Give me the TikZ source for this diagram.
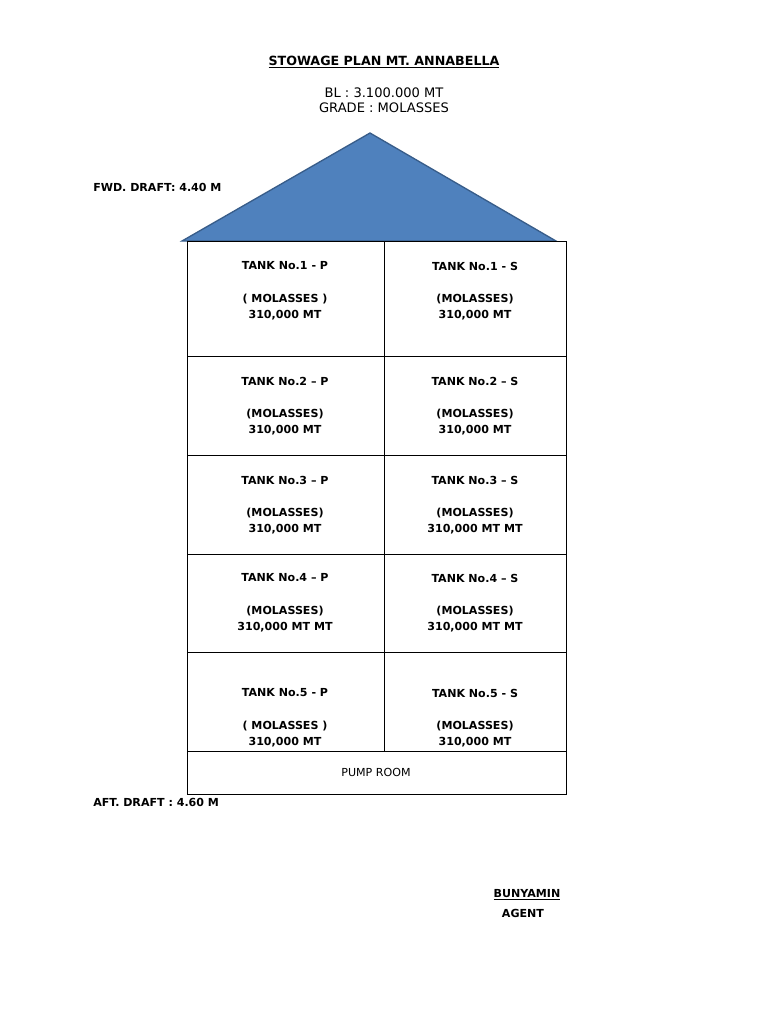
\documentclass[tikz,border=0pt]{standalone}
\usepackage{fontspec}
\setmainfont{DejaVu Sans}
\usetikzlibrary{positioning}
\definecolor{roofblue}{HTML}{4F81BD}
\definecolor{roofline}{HTML}{385D8A}
\tikzset{
  celltext/.style={font=\fontsize{8.3}{10}\selectfont\bfseries, inner sep=0pt},
  plaintext/.style={font=\fontsize{8.3}{10}\selectfont, inner sep=0pt},
  tankline/.style={draw=black, line width=0.6pt},
}
\begin{document}
\begin{tikzpicture}[x=0.75pt,y=-0.75pt]
  \useasboundingbox (0,0) rectangle (768,1024);
  % headings
  \node[celltext, font=\fontsize{9.5}{11}\selectfont\bfseries] (title) at (384,62) {\underline{STOWAGE PLAN MT. ANNABELLA}};
  \node[plaintext, font=\fontsize{9.8}{11}\selectfont] (bl) at (384,93) {BL : 3.100.000 MT};
  \node[plaintext, font=\fontsize{9.8}{11}\selectfont] (grade) at (384,108) {GRADE : MOLASSES};
  \node[celltext, anchor=west] (fwd) at (93,187) {FWD. DRAFT: 4.40 M};
  \node[celltext, anchor=west] (aft) at (93,802) {AFT. DRAFT : 4.60 M};
  % roof
  \coordinate (roofl) at (182,241);
  \coordinate (rooft) at (370,133);
  \coordinate (roofr) at (556,241);
  \filldraw[fill=roofblue, draw=roofline, line width=1pt] (roofl) -- (rooft) -- (roofr) -- cycle;
  % tanks
  \draw[tankline] (187,241) rectangle (566,794);
  \draw[tankline] (384,241) -- (384,751);
  \foreach \y in {356,455,554,652,751}
    \draw[tankline] (187,\y) -- (566,\y);
  % cell texts
  \foreach \n/\y/\dy/\p/\s/\mp/\ms/\tp/\ts in {
      1/241/25/{TANK No.1 - P}/{TANK No.1 - S}/{( MOLASSES )}/{(MOLASSES)}/{310,000 MT}/{310,000 MT},
      2/356/25/{TANK No.2 – P}/{TANK No.2 – S}/{(MOLASSES)}/{(MOLASSES)}/{310,000 MT}/{310,000 MT},
      3/455/25/{TANK No.3 – P}/{TANK No.3 – S}/{(MOLASSES)}/{(MOLASSES)}/{310,000 MT}/{310,000 MT MT},
      4/554/24/{TANK No.4 – P}/{TANK No.4 – S}/{(MOLASSES)}/{(MOLASSES)}/{310,000 MT MT}/{310,000 MT MT},
      5/652/41/{TANK No.5 - P}/{TANK No.5 - S}/{( MOLASSES )}/{(MOLASSES)}/{310,000 MT}/{310,000 MT}} {
    \pgfmathtruncatemacro\ya{\y+\dy}
    \pgfmathtruncatemacro\yb{\y+\dy+33}
    \pgfmathtruncatemacro\yc{\y+\dy+49}
    \node[celltext] (tank\n p) at (285,\ya) {\p};
    \node[celltext] (tank\n s) at (475,\ya) {\s};
    \node[celltext] (cargo\n p) at (285,\yb) {\mp};
    \node[celltext] (cargo\n s) at (475,\yb) {\ms};
    \node[celltext] (qty\n p) at (285,\yc) {\tp};
    \node[celltext] (qty\n s) at (475,\yc) {\ts};
  }
  \node[plaintext] (pump) at (376,772) {PUMP ROOM};
  % signature
  \node[celltext] (agentname) at (527,895) {\underline{BUNYAMIN}};
  \node[celltext] (agent) at (523,913) {AGENT};
\end{tikzpicture}
\end{document}
